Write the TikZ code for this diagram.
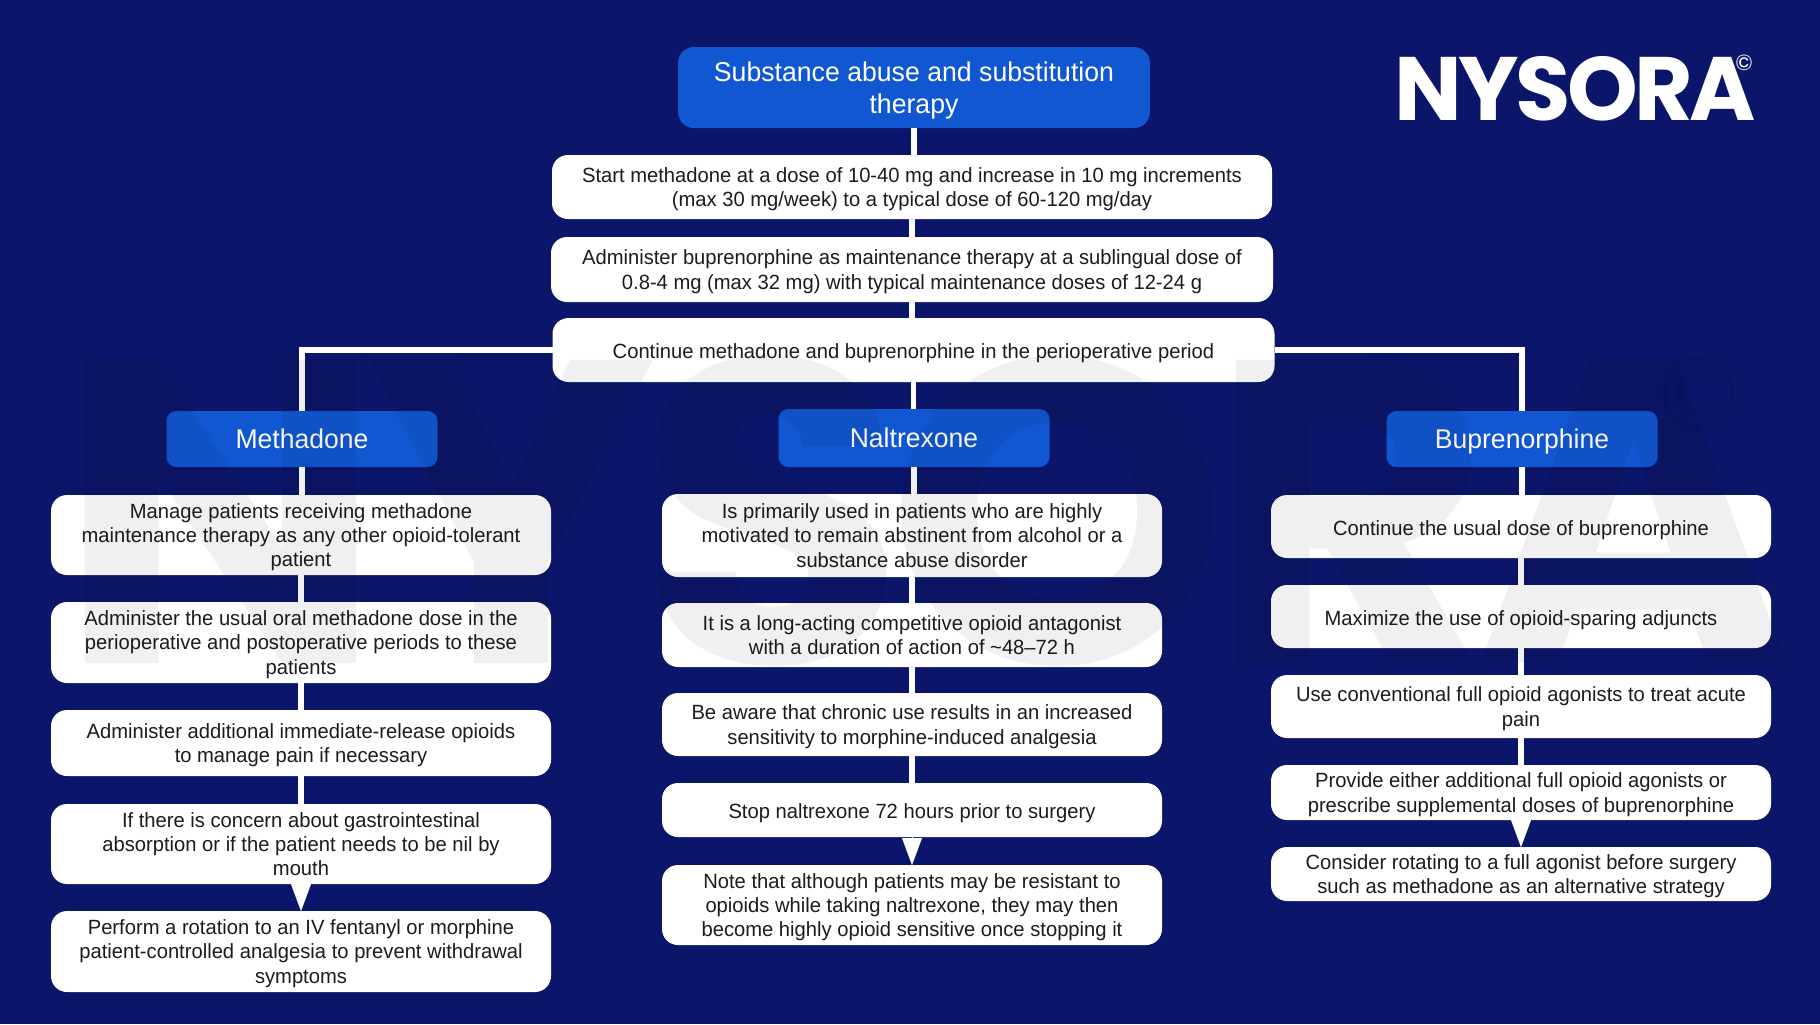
\documentclass[tikz,border=0pt]{standalone}
\usepackage{fontspec}
\setmainfont[FakeStretch=0.98]{Liberation Sans}
\newfontfamily\logofont[LetterSpace=-4]{Poppins}
\usetikzlibrary{positioning}
\usetikzlibrary{arrows.meta}

\definecolor{bgnavy}{HTML}{0B166A}
\definecolor{headblue}{HTML}{1157D2}
\definecolor{inktext}{HTML}{1C1C1C}

\tikzset{
	infobox/.style = {rectangle, rounded corners = 8pt, fill = white, text = inktext, inner sep = 0pt, outer sep = 0pt, align = center, minimum width = 250pt, font = \fontsize{10.3}{12.2}\selectfont, execute at begin node = \strut, text depth = 0pt},
	headbox/.style = {rectangle, rounded corners = 5pt, fill = headblue, text = white, inner sep = 0pt, outer sep = 0pt, align = center, minimum width = 135.5pt, minimum height = 28pt, font = \fontsize{13.55}{15}\selectfont, execute at begin node = \rule{0pt}{9.5pt}, text depth = 0pt},
	link/.style = {draw = white, line width = 2.7pt},
	pointer/.style = {draw = white, fill = white, line width = .1pt, -{Triangle[width = 10pt, length = 13.5pt]}}
}

\begin{document}
\begin{tikzpicture}[x = .5pt, y = -.5pt]
		\useasboundingbox (0,0) rectangle (1820,1024);
		\fill[bgnavy] (0,0) rectangle (1820,1024);
		
		\node[headbox, minimum width = 236pt, minimum height = 40.5pt, rounded corners = 8pt, font = \fontsize{13.6}{15.8}\selectfont] (Title) at (914,87.5) {Substance abuse and substitution\\therapy};
		\node[infobox, minimum width = 360pt, minimum height = 32pt, below = 13.5pt of Title, xshift = -1pt] (Start) {Start methadone at a dose of 10-40 mg and increase in 10 mg increments\\(max 30 mg/week) to a typical dose of 60-120 mg/day};
		\node[infobox, minimum width = 361pt, minimum height = 32.5pt, below = 9pt of Start] (Admin) {Administer buprenorphine as maintenance therapy at a sublingual dose of\\0.8-4 mg (max 32 mg) with typical maintenance doses of 12-24 g};
		\node[infobox, minimum width = 361pt, minimum height = 32pt, below = 8pt of Admin, xshift = .75pt] (Cont) {Continue methadone and buprenorphine in the perioperative period};
		
		\node[headbox] (Meth) at (302,439) {Methadone};
		\node[headbox, minimum height = 29pt] (Nalt) at (914,438) {Naltrexone};
		\node[headbox] (Bup) at (1522,439) {Buprenorphine};
		
		\node[infobox, minimum height = 40pt, below = 14pt of Meth, xshift = -.5pt] (M1) {Manage patients receiving methadone\\maintenance therapy as any other opioid-tolerant\\patient};
		\node[infobox, minimum height = 40.5pt, below = 13.5pt of M1] (M2) {Administer the usual oral methadone dose in the\\perioperative and postoperative periods to these\\patients};
		\node[infobox, minimum height = 33pt, below = 13.5pt of M2] (M3) {Administer additional immediate-release opioids\\to manage pain if necessary};
		\node[infobox, minimum height = 40pt, below = 14pt of M3] (M4) {If there is concern about gastrointestinal\\absorption or if the patient needs to be nil by\\mouth};
		\node[infobox, minimum height = 40.5pt, below = 13.5pt of M4] (M5) {Perform a rotation to an IV fentanyl or morphine\\patient-controlled analgesia to prevent withdrawal\\symptoms};
		
		\node[infobox, minimum height = 41.5pt, below = 13.5pt of Nalt, xshift = -1pt] (N1) {Is primarily used in patients who are highly\\motivated to remain abstinent from alcohol or a\\substance abuse disorder};
		\node[infobox, minimum height = 32pt, below = 13pt of N1] (N2) {It is a long-acting competitive opioid antagonist\\with a duration of action of \textasciitilde48--72 h};
		\node[infobox, minimum height = 31.5pt, below = 13pt of N2] (N3) {Be aware that chronic use results in an increased\\sensitivity to morphine-induced analgesia};
		\node[infobox, minimum height = 27pt, below = 13.5pt of N3] (N4) {Stop naltrexone 72 hours prior to surgery};
		\node[infobox, minimum height = 40pt, below = 14pt of N4] (N5) {Note that although patients may be resistant to\\opioids while taking naltrexone, they may then\\become highly opioid sensitive once stopping it};
		
		\node[infobox, minimum height = 31.5pt, below = 14pt of Bup, xshift = -.5pt] (B1) {Continue the usual dose of buprenorphine};
		\node[infobox, minimum height = 31.5pt, below = 13.5pt of B1] (B2) {Maximize the use of opioid-sparing adjuncts};
		\node[infobox, minimum height = 31.5pt, below = 13.5pt of B2] (B3) {Use conventional full opioid agonists to treat acute\\pain};
		\node[infobox, minimum height = 27.5pt, below = 13.5pt of B3] (B4) {Provide either additional full opioid agonists or\\prescribe supplemental doses of buprenorphine};
		\node[infobox, minimum height = 27pt, below = 13.5pt of B4] (B5) {Consider rotating to a full agonist before surgery\\such as methadone as an alternative strategy};
		
		\path (Title) edge[link] (Title |- Start.north);
		\path (Start) edge[link] (Admin);
		\path (Admin) edge[link] (Admin |- Cont.north);
		\path (Cont) edge[link] (Cont |- Nalt.north);
		\draw[link] (Cont.west) -| (Meth.north);
		\draw[link] (Cont.east) -| (Bup.north);
		
		\path (Meth) edge[link] (Meth |- M1.north);
		\path (M1) edge[link] (M2);
		\path (M2) edge[link] (M3);
		\path (M3) edge[link] (M4);
		\path (M4) edge[pointer] (M5);
		
		\path (Nalt) edge[link] (Nalt |- N1.north);
		\path (N1) edge[link] (N2);
		\path (N2) edge[link] (N3);
		\path (N3) edge[link] (N4);
		\path (N4) edge[pointer] (N5);
		
		\path (Bup) edge[link] (Bup |- B1.north);
		\path (B1) edge[link] (B2);
		\path (B2) edge[link] (B3);
		\path (B3) edge[link] (B4);
		\path (B4) edge[pointer] (B5);
		
		% logo, then the same word as a faint mark over everything
		\node[text = white, inner sep = 0pt, anchor = base west, font = \logofont\bfseries\fontsize{45}{45}\selectfont] (Logo) at (1394,120) {NYSORA};
		\node[text = white, inner sep = 0pt, font = \logofont\fontsize{11}{11}\selectfont] (LogoC) at (1744,63) {©};
		\node[text = black, text opacity = .06, inner sep = 0pt, anchor = base west, font = \logofont\bfseries\fontsize{216}{216}\selectfont] (Wmark) at (58,663) {NYSORA};
		\node[text = black, text opacity = .06, inner sep = 0pt, font = \logofont\fontsize{52}{52}\selectfont] (WmarkC) at (1699,393) {©};
	\end{tikzpicture}
\end{document}
